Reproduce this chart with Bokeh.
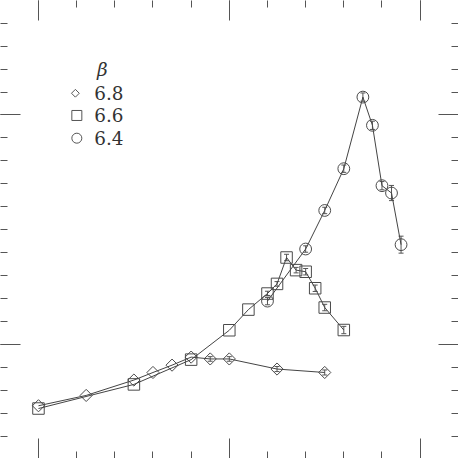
import math
from bokeh.plotting import figure
from bokeh.models import (Range1d, LinearAxis, SingleIntervalTicker, CustomJSTickFormatter,
                          ColumnDataSource, Whisker, TeeHead)
from bokeh.core.properties import value
from bokeh.embed import file_html
from bokeh.resources import INLINE

# ---------------- data ----------------
x_b68 = [0.0, 0.25, 0.5, 0.6, 0.7, 0.8, 0.9, 1.0, 1.25, 1.5]
y_b68 = [0.733, 0.778, 0.845, 0.878, 0.910, 0.945, 0.937, 0.937, 0.893, 0.878]
e_b68 = [0.0, 0.0, 0.0, 0.0, 0.0, 0.0, 0.010, 0.010, 0.011, 0.011]

x_b66 = [0.0, 0.5, 0.8, 1.0, 1.1, 1.2, 1.25, 1.3, 1.35, 1.4, 1.45, 1.5, 1.6]
y_b66 = [0.721, 0.826, 0.934, 1.062, 1.152, 1.222, 1.264, 1.379, 1.324, 1.317, 1.245, 1.161, 1.063]
e_b66 = [0.0, 0.0, 0.0, 0.0, 0.0, 0.010, 0.010, 0.014, 0.012, 0.014, 0.014, 0.014, 0.016]

x_b64 = [1.2, 1.4, 1.5, 1.6, 1.7, 1.75, 1.8, 1.85, 1.9]
y_b64 = [1.189, 1.416, 1.584, 1.766, 2.078, 1.955, 1.692, 1.660, 1.435]
e_b64 = [0.016, 0.014, 0.014, 0.016, 0.018, 0.018, 0.018, 0.033, 0.037]

legend_title = "β"
legend_labels = ["6.8", "6.6", "6.4"]

# ---------------- figure ----------------
W = H = 458
S = W / 474.0          # reference-pixel -> figure-pixel scale
INK = "#444444"
p = figure(width=W, height=H, output_backend="svg", toolbar_location=None,
           x_range=Range1d(-0.199, 2.201), y_range=Range1d(0.5032, 2.4989),
           min_border=0, outline_line_color=None, background_fill_color="white",
           border_fill_color="white")
p.xgrid.visible = False
p.ygrid.visible = False

# pixel-space range used only for the hand-placed legend block (reference pixels)
p.extra_x_ranges = {"px": Range1d(0, 474)}
p.extra_y_ranges = {"px": Range1d(474, 0)}


def style_axis(ax):
    ax.axis_line_color = None
    ax.major_tick_in = 20
    ax.major_tick_out = 0
    ax.minor_tick_in = 7
    ax.minor_tick_out = 0
    ax.major_tick_line_color = "#555555"
    ax.minor_tick_line_color = "#555555"
    ax.major_tick_line_width = 1
    ax.minor_tick_line_width = 1
    ax.major_label_text_font_size = "0px"
    ax.major_label_standoff = 0
    ax.formatter = CustomJSTickFormatter(code="return ''")


xt = SingleIntervalTicker(interval=1, num_minor_ticks=5)
yt = SingleIntervalTicker(interval=1, num_minor_ticks=10)
p.xaxis.ticker = xt
p.yaxis.ticker = yt
p.add_layout(LinearAxis(ticker=xt), "above")
p.add_layout(LinearAxis(ticker=yt), "right")
for ax in p.xaxis + p.yaxis:
    style_axis(ax)

series = [
    (x_b68, y_b68, e_b68, "square", 8.6, math.pi / 4),
    (x_b66, y_b66, e_b66, "square", 11.5, 0.0),
    (x_b64, y_b64, e_b64, "circle", 11.8, 0.0),
]
for xs, ys, es, mk, sz, ang in series:
    src = ColumnDataSource(dict(x=xs, y=ys))
    p.line("x", "y", source=src, line_color=INK, line_width=1)
    p.scatter("x", "y", source=src, marker=mk, size=sz, angle=ang,
              fill_alpha=0, line_color="#4a4a4a", line_width=1)
    keep = [i for i, e in enumerate(es) if e > 0]
    esrc = ColumnDataSource(dict(x=[xs[i] for i in keep],
                                 lo=[ys[i] - es[i] for i in keep],
                                 hi=[ys[i] + es[i] for i in keep]))
    p.add_layout(Whisker(source=esrc, base="x", upper="hi", lower="lo", dimension="height",
                         line_color="#555555", line_width=1,
                         upper_head=TeeHead(size=5, line_color="#555555", line_width=1),
                         lower_head=TeeHead(size=5, line_color="#555555", line_width=1)))

# ---------------- legend (reference pixel layout) ----------------
FONT = value("DejaVu Serif")
FS = "%.1fpx" % (19 * S)
p.text(x=[100], y=[71], text=[legend_title], x_range_name="px", y_range_name="px",
       text_font=FONT, text_font_style="italic", text_font_size=FS,
       text_color="#333333", text_baseline="middle", text_align="left")
leg_y = [96, 119, 142.5]
p.text(x=[97, 97, 97], y=leg_y, text=legend_labels, x_range_name="px", y_range_name="px",
       text_font=FONT, text_font_size=FS, text_color="#333333",
       text_baseline="middle", text_align="left")
p.scatter(x=[77.5], y=[leg_y[0]], marker="square", size=5.5, angle=math.pi / 4,
          x_range_name="px", y_range_name="px", fill_alpha=0, line_color="#555555")
p.scatter(x=[79], y=[leg_y[1]], marker="square", size=10,
          x_range_name="px", y_range_name="px", fill_alpha=0, line_color="#555555")
p.scatter(x=[79], y=[leg_y[2]], marker="circle", size=10,
          x_range_name="px", y_range_name="px", fill_alpha=0, line_color="#555555")

open("out.html", "w").write(file_html(p, INLINE))
